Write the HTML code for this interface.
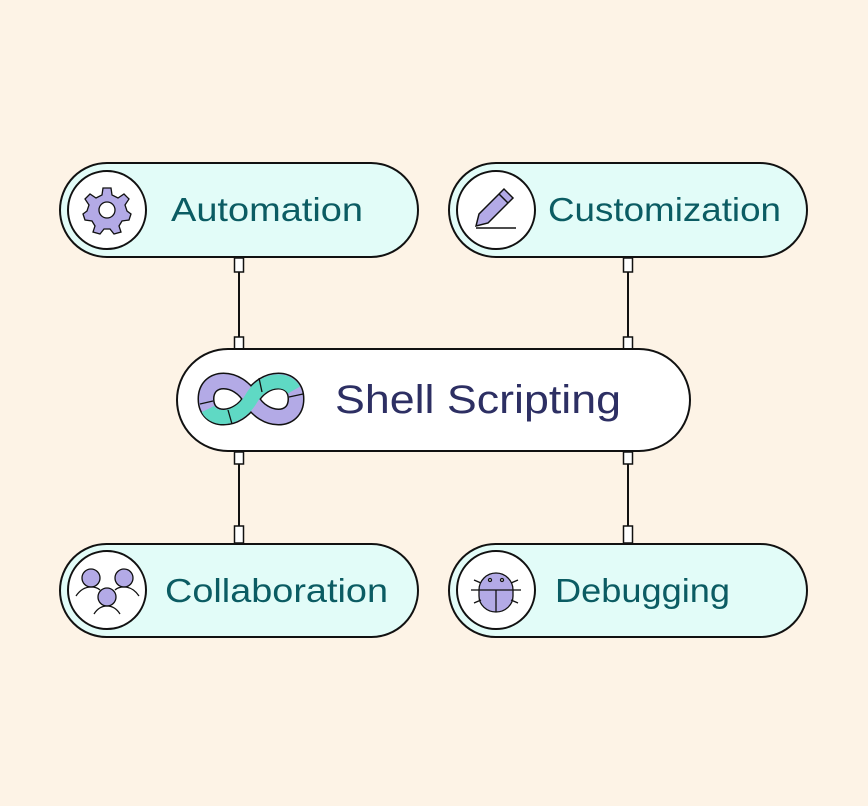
<!DOCTYPE html>
<html><head><meta charset="utf-8"><style>
body{margin:0;width:868px;height:801px;background:#fdf3e6;overflow:hidden;font-family:"Liberation Sans","DejaVu Sans",sans-serif}
</style></head><body>
<svg width="868" height="801" viewBox="0 0 868 801" xmlns="http://www.w3.org/2000/svg">
<g stroke="#111" stroke-width="2" fill="#fff">
<line x1="239" y1="265" x2="239" y2="345"/><line x1="628" y1="265" x2="628" y2="345"/>
<line x1="239" y1="455" x2="239" y2="535"/><line x1="628" y1="455" x2="628" y2="535"/>
<rect x="234.5" y="258" width="9" height="14" stroke-width="1.5"/><rect x="234.5" y="337" width="9" height="12" stroke-width="1.5"/>
<rect x="623.5" y="258" width="9" height="14" stroke-width="1.5"/><rect x="623.5" y="337" width="9" height="12" stroke-width="1.5"/>
<rect x="234.5" y="452" width="9" height="12" stroke-width="1.5"/><rect x="234.5" y="526" width="9" height="17" stroke-width="1.5"/>
<rect x="623.5" y="452" width="9" height="12" stroke-width="1.5"/><rect x="623.5" y="526" width="9" height="17" stroke-width="1.5"/>
</g>
<g stroke="#111" stroke-width="2" fill="#e2fcf8">
<rect x="60" y="163" width="358" height="94" rx="47"/>
<rect x="449" y="163" width="358" height="94" rx="47"/>
<rect x="60" y="544" width="358" height="93" rx="46.5"/>
<rect x="449" y="544" width="358" height="93" rx="46.5"/>
</g>
<rect x="177" y="349" width="513" height="102" rx="51" fill="#fff" stroke="#111" stroke-width="2"/>
<g fill="#fff" stroke="#111" stroke-width="2">
<circle cx="107" cy="210" r="39"/><circle cx="496" cy="210" r="39"/>
<circle cx="107" cy="590" r="39"/><circle cx="496" cy="590" r="39"/>
</g>
<g transform="translate(107,210)" stroke="#111" stroke-width="1.3">
<path fill="#b3aae6" d="M-4,-22 L4,-22 L5,-15 L11,-12 L17,-16 L22,-11 L18,-5 L20,1 L24,4 L22,10 L15,11 L12,16 L14,22 L7,24 L3,19 L-3,19 L-7,24 L-14,22 L-12,16 L-15,11 L-22,10 L-24,4 L-20,1 L-18,-5 L-22,-11 L-17,-16 L-11,-12 L-5,-15 Z"/>
<circle r="8" fill="#fff"/>
</g>
<g transform="translate(496,210)" stroke="#111" stroke-width="1.5">
<path d="M-20,16 L-17,4 L8,-21 L17,-12 L-8,13 Z" fill="#b3aae6"/>
<line x1="3" y1="-16" x2="12" y2="-7"/>
<line x1="-20" y1="18" x2="20" y2="18"/>
</g>
<g stroke="#111" stroke-width="1.3" fill="#b3aae6">
<circle cx="91" cy="578" r="9"/><circle cx="124" cy="578" r="9"/><circle cx="107" cy="597" r="9"/>
<g fill="none"><path d="M76,596 q6,-9 15,-9 q6,0 9,3"/><path d="M139,596 q-6,-9 -15,-9 q-6,0 -9,3"/><path d="M94,614 q5,-8 13,-8 q8,0 13,8"/></g>
</g>
<g stroke="#111" stroke-width="1.3">
<path d="M479,590 a17,17 0 0 1 34,0 v6 a17,16 0 0 1 -34,0 Z" fill="#b3aae6"/>
<line x1="496" y1="590" x2="496" y2="612"/><line x1="479" y1="590" x2="513" y2="590"/>
<line x1="471" y1="590" x2="479" y2="590"/><line x1="513" y1="590" x2="521" y2="590"/>
<line x1="474" y1="580" x2="481" y2="583"/><line x1="518" y1="580" x2="511" y2="583"/>
<line x1="474" y1="603" x2="481" y2="600"/><line x1="518" y1="603" x2="511" y2="600"/>
<circle cx="490" cy="580" r="1.5" fill="#fff"/><circle cx="502" cy="580" r="1.5" fill="#fff"/>
</g>
<g fill="none">
<path d="M251,399 C238,375 206,375 206,399 C206,423 238,423 251,399 C264,375 296,375 296,399 C296,423 264,423 251,399" stroke="#111" stroke-width="17"/>
<path d="M251,399 C238,375 206,375 206,399 C206,423 238,423 251,399 C264,375 296,375 296,399 C296,423 264,423 251,399" stroke="#b3aae6" stroke-width="14"/>
<path d="M208,409 C214,421 238,421 251,399 C262,379 286,376 294,390" stroke="#5fd9c4" stroke-width="14"/>
<g stroke="#111" stroke-width="1.3">
<line x1="200" y1="404" x2="213" y2="401"/><line x1="228" y1="410" x2="232" y2="424"/>
<line x1="259" y1="378" x2="262" y2="392"/><line x1="289" y1="397" x2="303" y2="394"/>
</g>
</g>
<g font-size="33" fill="#0b5c63">
<text x="171" y="221" textLength="192" lengthAdjust="spacingAndGlyphs">Automation</text>
<text x="548" y="221" textLength="233" lengthAdjust="spacingAndGlyphs">Customization</text>
<text x="165" y="602" textLength="223" lengthAdjust="spacingAndGlyphs">Collaboration</text>
<text x="555" y="602" textLength="175" lengthAdjust="spacingAndGlyphs">Debugging</text>
</g>
<text x="335" y="413" font-size="40" fill="#2d2f63" textLength="286" lengthAdjust="spacingAndGlyphs">Shell Scripting</text>
</svg>
</body></html>
